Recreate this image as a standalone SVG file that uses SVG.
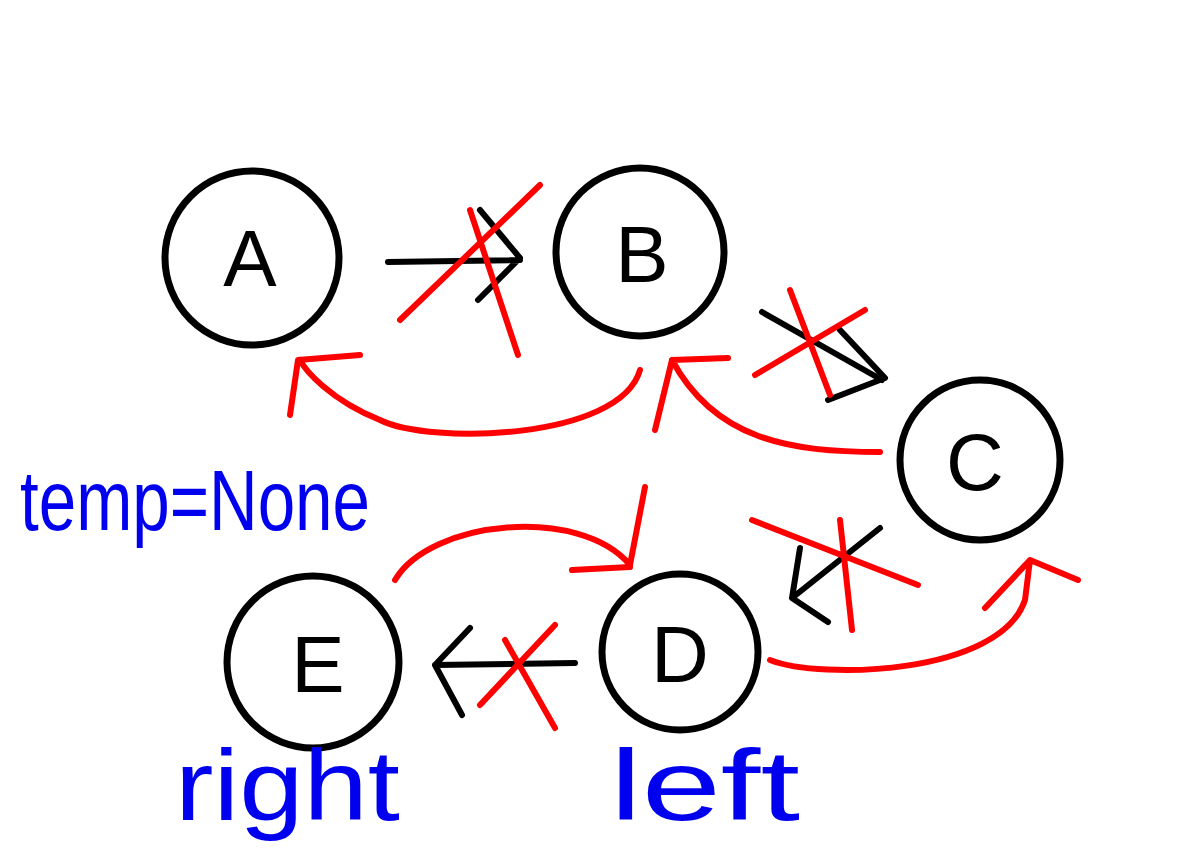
<svg xmlns="http://www.w3.org/2000/svg" width="1200" height="849" viewBox="0 0 1200 849">
<style>
.n{fill:none;stroke:#000;stroke-width:7}
.k{fill:none;stroke:#000;stroke-width:6;stroke-linecap:round;stroke-linejoin:round}
.r{fill:none;stroke:#f00;stroke-width:6;stroke-linecap:round;stroke-linejoin:round}
.t{font-family:"Liberation Sans",sans-serif;font-size:80px;fill:#000;text-anchor:middle}
.b{font-family:"Liberation Sans",sans-serif;fill:#0000ee}
</style>
<rect width="1200" height="849" fill="#fff"/>
<g id="A"><circle class="n" cx="252" cy="258" r="87"/><text class="t" x="250" y="286">A</text></g>
<g id="B"><circle class="n" cx="640" cy="252" r="84"/><text class="t" x="642" y="282">B</text></g>
<g id="C"><circle class="n" cx="980" cy="460" r="80"/><text class="t" x="975" y="490">C</text></g>
<g id="D"><circle class="n" cx="680" cy="652" r="78"/><text class="t" x="680" y="682">D</text></g>
<g id="E"><circle class="n" cx="313" cy="662" r="86"/><text class="t" x="318" y="692">E</text></g>
<g id="connectors">
<path class="k" d="M388 262 L520 260 M480 210 L520 258 L478 300"/>
<path class="k" d="M762 312 L882 380 M840 330 L885 378 L828 400"/>
<path class="k" d="M880 528 L792 598 M800 548 L792 598 L828 622"/>
<path class="k" d="M575 663 L435 665 M470 628 L435 665 L462 715"/>
<path class="r" d="M400 320 L540 185 M470 210 L518 355"/>
<path class="r" d="M755 375 L865 310 M790 290 L830 395"/>
<path class="r" d="M752 520 L918 585 M840 520 L852 630"/>
<path class="r" d="M480 705 L555 625 M505 640 L555 728"/>
<path class="r" d="M640 370 C620 440 430 445 380 420 C330 400 305 370 300 360 M290 415 L298 360 L360 355"/>
<path class="r" d="M880 452 C790 452 715 440 672 360 M655 430 L672 360 L728 358"/>
<path class="r" d="M645 487 L630 565 M572 570 L630 567"/>
<path class="r" d="M395 580 C430 520 580 505 630 565"/>
<path class="r" d="M770 660 C820 680 1000 675 1025 600 L1030 560 M985 608 L1030 560 L1078 580"/>
</g>
<text class="b" x="20" y="530" font-size="86" textLength="350" lengthAdjust="spacingAndGlyphs">temp=None</text>
<text class="b" x="175" y="820" font-size="100" textLength="225" lengthAdjust="spacingAndGlyphs">right</text>
<text class="b" x="610" y="820" font-size="100" textLength="190" lengthAdjust="spacingAndGlyphs">left</text>
</svg>
